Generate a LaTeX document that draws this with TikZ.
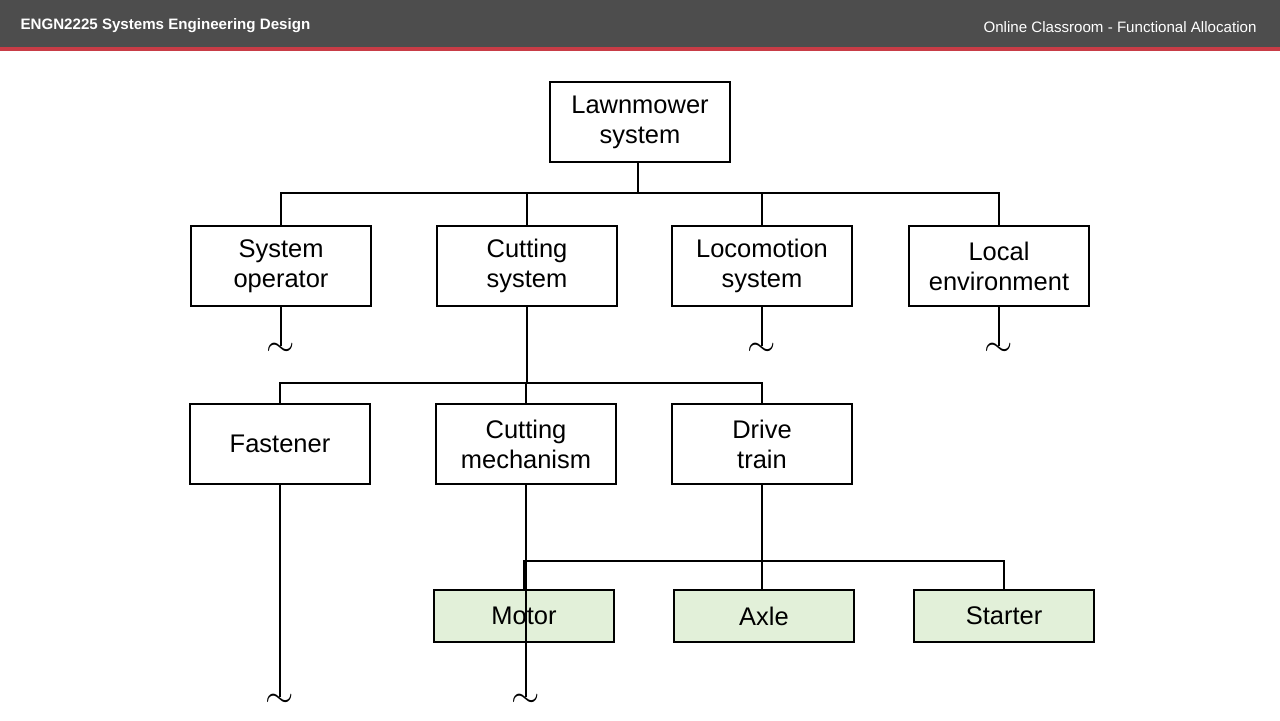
\documentclass[tikz,border=0pt]{standalone}
\usepackage{fontspec}
\setmainfont{Liberation Sans}
\usetikzlibrary{positioning}
\definecolor{barGray}{RGB}{77,77,77}
\definecolor{barRed}{RGB}{200,60,70}
\definecolor{leafGreen}{RGB}{226,240,217}
\begin{document}
\begin{tikzpicture}[x=0.02cm,y=-0.02cm,thick,
    main node/.style={draw,line width=1.2pt,minimum width=3.6cm,minimum height=1.6cm,align=center,font=\fontsize{14.5}{17}\selectfont,inner sep=0pt},
    leaf node/.style={main node,fill=leafGreen,minimum height=1.04cm},
    link/.style={line width=1.6pt},
    cut/.style={font=\fontsize{20}{20}\selectfont\bfseries,inner sep=0pt}]
   \useasboundingbox (0,0) rectangle (1280,720);
   % header
   \fill[barGray] (0,0) rectangle (1280,47);
   \fill[barRed] (0,47) rectangle (1280,51);
   \node[anchor=west,text=white,font=\fontsize{8.6}{10}\selectfont\bfseries] (title) at (14,26) {ENGN2225 Systems Engineering Design};
   \node[anchor=east,text=white,font=\fontsize{8.6}{10}\selectfont] (topic) at (1263,27) {Online Classroom - Functional Allocation};

   \node[main node] (lawn) at (640,122) {Lawnmower\\system};
   \node[main node] (oper) at (281,266) {System\\operator};
   \node[main node] (cutsys) at (527,266) {Cutting\\system};
   \node[main node] (loco) at (762,266) {Locomotion\\system};
   \node[main node] (env) at (999,266) {Local\\environment};
   \node[main node] (fast) at (280,444) {Fastener};
   \node[main node] (mech) at (526,444) {Cutting\\mechanism};
   \node[main node] (drive) at (762,444) {Drive\\train};
   \node[leaf node] (motor) at (524,616) {Motor};
   \node[leaf node] (axle) at (764,616) {Axle};
   \node[leaf node] (start) at (1004,616) {Starter};

   % level buses
   \coordinate (bus1) at (638,193);
   \coordinate (bus2) at (527,383);
   \coordinate (bus3) at (762,561);
   \draw[link] (lawn.south -| bus1) -- (bus1);
   \draw[link] (oper.north) |- (bus1) -| (env.north);
   \draw[link] (cutsys.north) -- (cutsys.north |- bus1);
   \draw[link] (loco.north) -- (loco.north |- bus1);
   \draw[link] (cutsys.south) -- (bus2);
   \draw[link] (fast.north) |- (bus2) -| (drive.north);
   \draw[link] (mech.north) -- (mech.north |- bus2);
   \draw[link] (drive.south) -- (axle.north -| drive.south);
   \draw[link] (motor.north) |- (bus3) -| (start.north);

   % open branches
   \foreach \n/\y in {oper/345,loco/345,env/345,fast/518,mech/518}{
     \coordinate (\n end) at ([yshift=-0.02cm*(\y-306)]\n.south);
     \draw[link] (\n.south) -- (\n end);
     \node[cut,below=-2pt of \n end] {$\sim$};
   }
\end{tikzpicture}
\end{document}
